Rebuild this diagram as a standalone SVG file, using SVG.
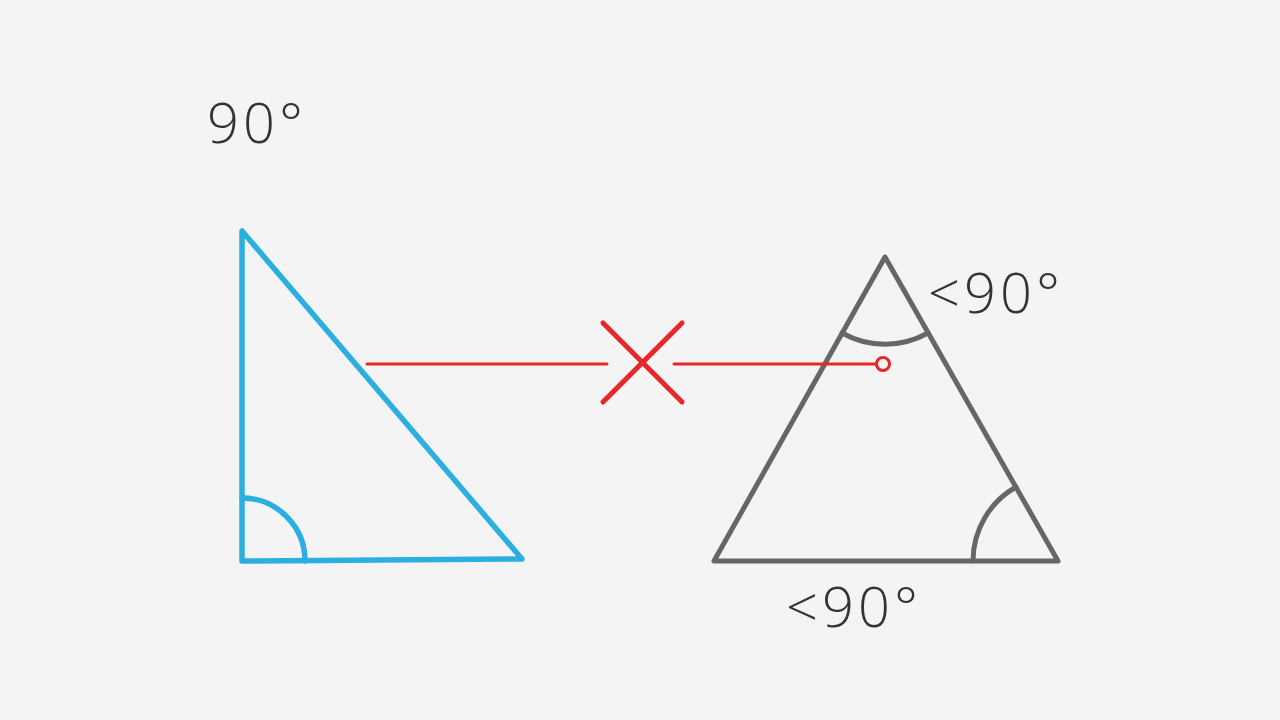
<svg xmlns="http://www.w3.org/2000/svg" width="1280" height="720" viewBox="0 0 1280 720">
<style>
.lbl{font-family:"Open Sans","Liberation Sans",sans-serif;font-size:56px;font-weight:300;fill:#333333;letter-spacing:4px}
.blue{fill:none;stroke:#2bafe0;stroke-width:5.5;stroke-linejoin:round;stroke-linecap:round}
.gray{fill:none;stroke:#666666;stroke-width:5;stroke-linejoin:round;stroke-linecap:round}
.red{fill:none;stroke:#e8262a;stroke-width:3;stroke-linecap:round}
.cross{fill:none;stroke:#e8262a;stroke-width:5;stroke-linecap:round}
</style>
<rect width="1280" height="720" fill="#f4f4f4"/>
<g id="right-triangle">
<path class="blue" d="M242,231 L242,561 L522,559 Z"/>
<path class="blue" d="M242,498 A63,63 0 0 1 305,561"/>
<text class="lbl" x="207" y="143">90°</text>
</g>
<g id="acute-triangle">
<path class="gray" d="M885,257 L714,561 L1058,561 Z"/>
<path class="gray" d="M842,333 A88,88 0 0 0 928,333"/>
<path class="gray" d="M973,561 A85,85 0 0 1 1016,487"/>
<text class="lbl" x="928" y="313">&lt;90°</text>
<text class="lbl" x="786" y="627">&lt;90°</text>
</g>
<g id="connectors">
<line class="red" x1="367" y1="364" x2="607" y2="364"/>
<line class="red" x1="674" y1="364" x2="877" y2="364"/>
<circle cx="883" cy="364" r="6.5" fill="#f4f4f4" stroke="#e8262a" stroke-width="3"/>
<line class="cross" x1="603" y1="323" x2="682" y2="402"/>
<line class="cross" x1="682" y1="323" x2="603" y2="402"/>
</g>
</svg>
